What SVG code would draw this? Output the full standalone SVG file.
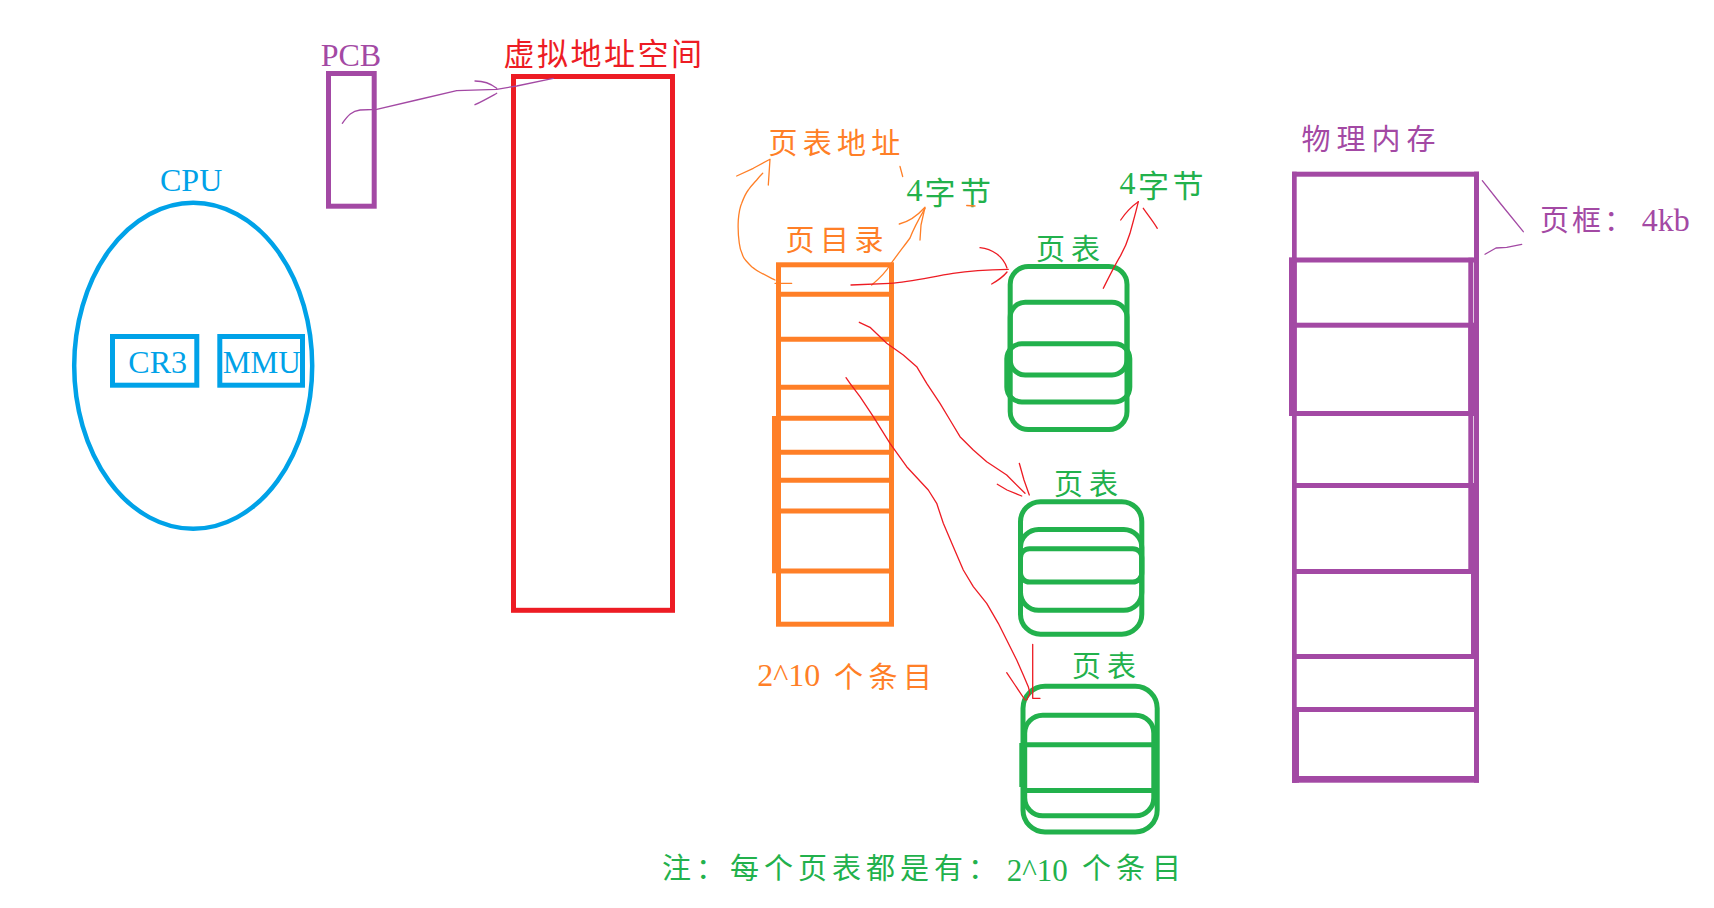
<svg xmlns="http://www.w3.org/2000/svg" width="1714" height="908" viewBox="0 0 1714 908">
<style>
.lat{font-family:"Liberation Serif","Noto Sans CJK SC",serif;font-size:32px}
.cjk{font-family:"Noto Sans CJK SC","Liberation Serif",sans-serif;font-size:29px}
.blue{fill:#00A2E8}.red{fill:#ED1C24}.org{fill:#FF7F27}.grn{fill:#22B14C}.pur{fill:#A349A4}
.sb{fill:none;stroke:#00A2E8}
.sr{fill:none;stroke:#ED1C24}
.so{fill:none;stroke:#FF7F27}
.sg{fill:none;stroke:#22B14C;stroke-width:5}
.sp{fill:none;stroke:#A349A4}
.thin{stroke-width:1.3;stroke-linejoin:round;stroke-linecap:round}
</style>
<rect width="1714" height="908" fill="#fff"/>

<g id="cpu">
<ellipse cx="193.2" cy="365.8" rx="119" ry="163" class="sb" stroke-width="4.5"/>
<text x="160" y="190.7" class="lat blue">CPU</text>
</g>
<g id="cr3">
<rect x="112.5" y="336.5" width="84.3" height="48.7" class="sb" stroke-width="5"/>
<text x="128.3" y="372.7" class="lat blue">CR3</text>
</g>
<g id="mmu">
<rect x="219.8" y="336.5" width="82.7" height="48.7" class="sb" stroke-width="5"/>
<text x="222.7" y="372.7" class="lat blue" textLength="78" lengthAdjust="spacingAndGlyphs">MMU</text>
</g>

<g id="pcb">
<rect x="328.5" y="73.5" width="45.7" height="132.7" class="sp" stroke-width="5"/>
<text x="320.7" y="66" class="lat pur">PCB</text>
</g>

<g id="virtual-space">
<rect x="513.5" y="76.5" width="159" height="533.8" class="sr" stroke-width="5"/>
<text y="65" class="cjk red" style="font-size:31px" x="503.5 537 570.5 604 637.5 671">虚拟地址空间</text>
</g>

<g id="page-directory">
<text y="154" class="cjk org" x="768.5 802.8 837 871.3">页表地址</text>
<text y="251" class="cjk org" x="785.5 820 854.5">页目录</text>
<rect x="772" y="416" width="9" height="157.3" fill="#FF7F27"/>
<rect x="778.5" y="264.8" width="113" height="359.4" class="so" stroke-width="5"/>
<g class="so" stroke-width="5">
<line x1="778.5" y1="294.3" x2="891.5" y2="294.3"/>
<line x1="778.5" y1="339.3" x2="889" y2="339.3"/>
<line x1="778.5" y1="387.3" x2="891.5" y2="387.3"/>
<line x1="778.5" y1="418.3" x2="891.5" y2="418.3"/>
<line x1="778.5" y1="452.3" x2="891.5" y2="452.3"/>
<line x1="778.5" y1="480.3" x2="891.5" y2="480.3"/>
<line x1="778.5" y1="511" x2="889" y2="511"/>
<line x1="778.5" y1="571" x2="891.5" y2="571"/>
</g>
<text class="lat org" x="757.3" y="686">2^10</text>
<text y="688" class="cjk org" x="834 868.5 903">个条目</text>
</g>

<g id="bytes-label-1">
<text class="lat grn" x="906.5" y="200.5">4</text>
<text class="cjk grn" style="font-size:31px" y="203.5" x="924.5 960">字节</text>
</g>
<g id="bytes-label-2">
<text class="lat grn" x="1119.5" y="194">4</text>
<text class="cjk grn" style="font-size:31px" y="197" x="1138 1172.5">字节</text>
</g>

<g id="page-table-1">
<text y="260" class="cjk grn" x="1036 1071">页表</text>
<rect x="1010.2" y="266.5" width="116.8" height="163" rx="18" class="sg"/>
<rect x="1010.2" y="302.3" width="116.8" height="72.7" rx="15" class="sg"/>
<rect x="1006.8" y="343.8" width="123" height="58.2" rx="15" class="sg"/>
</g>
<g id="page-table-2">
<text y="495" class="cjk grn" x="1054 1089">页表</text>
<rect x="1020.5" y="501.7" width="121.3" height="132.5" rx="20" class="sg"/>
<rect x="1020.5" y="529.5" width="121.3" height="80.8" rx="18" class="sg"/>
<rect x="1020.5" y="548.7" width="121.3" height="33.3" rx="9" class="sg"/>
</g>
<g id="page-table-3">
<text y="677" class="cjk grn" x="1072 1107">页表</text>
<rect x="1023" y="686.2" width="134.2" height="145.8" rx="22" class="sg"/>
<rect x="1024.7" y="715.3" width="129.1" height="100.5" rx="18" class="sg"/>
<line x1="1022" y1="744.7" x2="1155" y2="744.7" class="sg"/>
<line x1="1022" y1="790.5" x2="1155" y2="790.5" class="sg"/>
<rect x="1019.3" y="743" width="5" height="44" fill="#22B14C"/>
</g>

<g id="physical-memory" fill="#A349A4">
<text y="150" class="cjk pur" x="1301.5 1336.5 1371.5 1406.5">物理内存</text>
<rect x="1292.3" y="171.7" width="186.7" height="5"/>
<rect x="1292" y="171.7" width="4.7" height="611"/>
<rect x="1289" y="257.7" width="7.7" height="158"/>
<rect x="1292" y="709" width="7" height="73.7"/>
<rect x="1474" y="171.7" width="5" height="611"/>
<rect x="1468.3" y="257.7" width="5" height="226"/>
<rect x="1468.3" y="325" width="10.7" height="90.7"/>
<rect x="1468.3" y="483" width="10.7" height="86"/>
<rect x="1471" y="569" width="8" height="85"/>
<rect x="1289" y="257.5" width="190" height="5"/>
<rect x="1292" y="322.7" width="187" height="5"/>
<rect x="1289" y="411" width="190" height="5"/>
<rect x="1292" y="483" width="187" height="5"/>
<rect x="1292" y="569" width="187" height="5"/>
<rect x="1292" y="654" width="187" height="5"/>
<rect x="1292" y="707" width="187" height="5"/>
<rect x="1292" y="776" width="187" height="6.7"/>
</g>
<g id="frame-label">
<text y="231" class="cjk pur" x="1540 1572 1604">页框：</text>
<text class="lat pur" x="1641.7" y="230.7">4kb</text>
</g>

<g id="note">
<text y="879" class="cjk grn" x="662 696 730 764 798 832 866 900 934 968">注：每个页表都是有：</text>
<text class="lat grn" style="font-size:31px" x="1006.7" y="881">2^10</text>
<text y="879" class="cjk grn" x="1082 1116 1152">个条目</text>
</g>

<g id="connectors" class="thin">
<path class="sp thin" d="M342.3,123.3 C348,115 352,111 360,110 L376.7,109.3 L416.7,100 L456.7,90.7 L496.7,89.3 L516.7,86 L553.3,78.3"/>
<path class="sp thin" d="M475,81 C483,81 490,83 496.7,88.3 M496.7,93.3 C490,97 483,101 475,104.7"/>
<path class="so thin" d="M791.7,283.3 L775,283.3"/>
<path class="so thin" d="M775,280 C769,277 758,272 751.7,266.7 C747,262 744,259 743.3,256.7 C740,250 739.5,246 739.3,243.3 C738,235 738,226 738.3,220 C739,212 740,207 741.7,203.3 C744,197 746,193 748.3,190 C751,186 754,183 756.7,180 C759,177 761,175 762.7,173.3"/>
<path class="so thin" d="M736.7,176 L753.3,168.3 L770,159.3 M770,159.3 L768.3,185"/>
<path class="so thin" d="M900,166.5 L902.7,176.5"/>
<path class="so thin" d="M871.7,285 C880,278 886,272 890,265 C897,255 905,245 910,238 C913,230 917,222 925,208.3"/>
<path class="so thin" d="M899.3,224 C908,222 918,215 925,207.3 M920,240 L921,225 L925,207.3"/>
<path class="so thin" d="M966.7,205.5 L975,206"/>
<path class="sr thin" d="M851,285 L890,283.3 C910,282 930,277 953,273.3 C970,270.5 990,269.5 1008.3,269.3"/>
<path class="sr thin" d="M980,247.7 C992,249 1003,256 1007,268 M991.7,284 C997,281 1003,277 1007,272"/>
<path class="sr thin" d="M859.3,322.3 L870,327.3 L886.7,343.3 L903.3,355 L916.7,366.7 L926.7,383.3 L940,403.3 L950,420 L960,436.7 L973.3,450 L986.7,461.7 L1006.7,475 L1025,493.3"/>
<path class="sr thin" d="M1019.3,463.3 L1024,480 L1029.3,495 M997.3,484.3 L1007,490 L1021.7,496"/>
<path class="sr thin" d="M846,377.7 L850,383.3 L860,396.7 L873.3,416.7 L890,443.3 L906.7,466.7 L928.3,490 L936.7,503.3 L943.3,523.3 L953.3,546.7 L963.3,570 L973.3,586.7 L986.7,603.3 L998.3,623.3 L1006.7,640 L1016.7,660 L1023.3,675 L1028.3,686.7 L1030,693.3 L1026.7,700"/>
<path class="sr thin" d="M1032.7,644.3 L1032.7,698.3 L1040,698.3 M1006.7,672.7 L1015,685 L1025,700"/>
<path class="sr thin" d="M1103.3,288.3 C1110,275 1115,265 1120,256.7 C1125,248 1128,240 1130,233.3 C1133,222 1136,212 1138.3,201.7"/>
<path class="sr thin" d="M1120.7,220 C1126,212 1132,206 1138.3,201.7 M1143.3,208.3 C1148,215 1153,221 1157.3,228.3"/>
<path class="sp thin" d="M1482.3,180.7 L1500,203 L1523.3,231.7 M1521.7,244.3 L1506.7,247.3 L1496,248 L1485,254.3"/>
</g>
</svg>
